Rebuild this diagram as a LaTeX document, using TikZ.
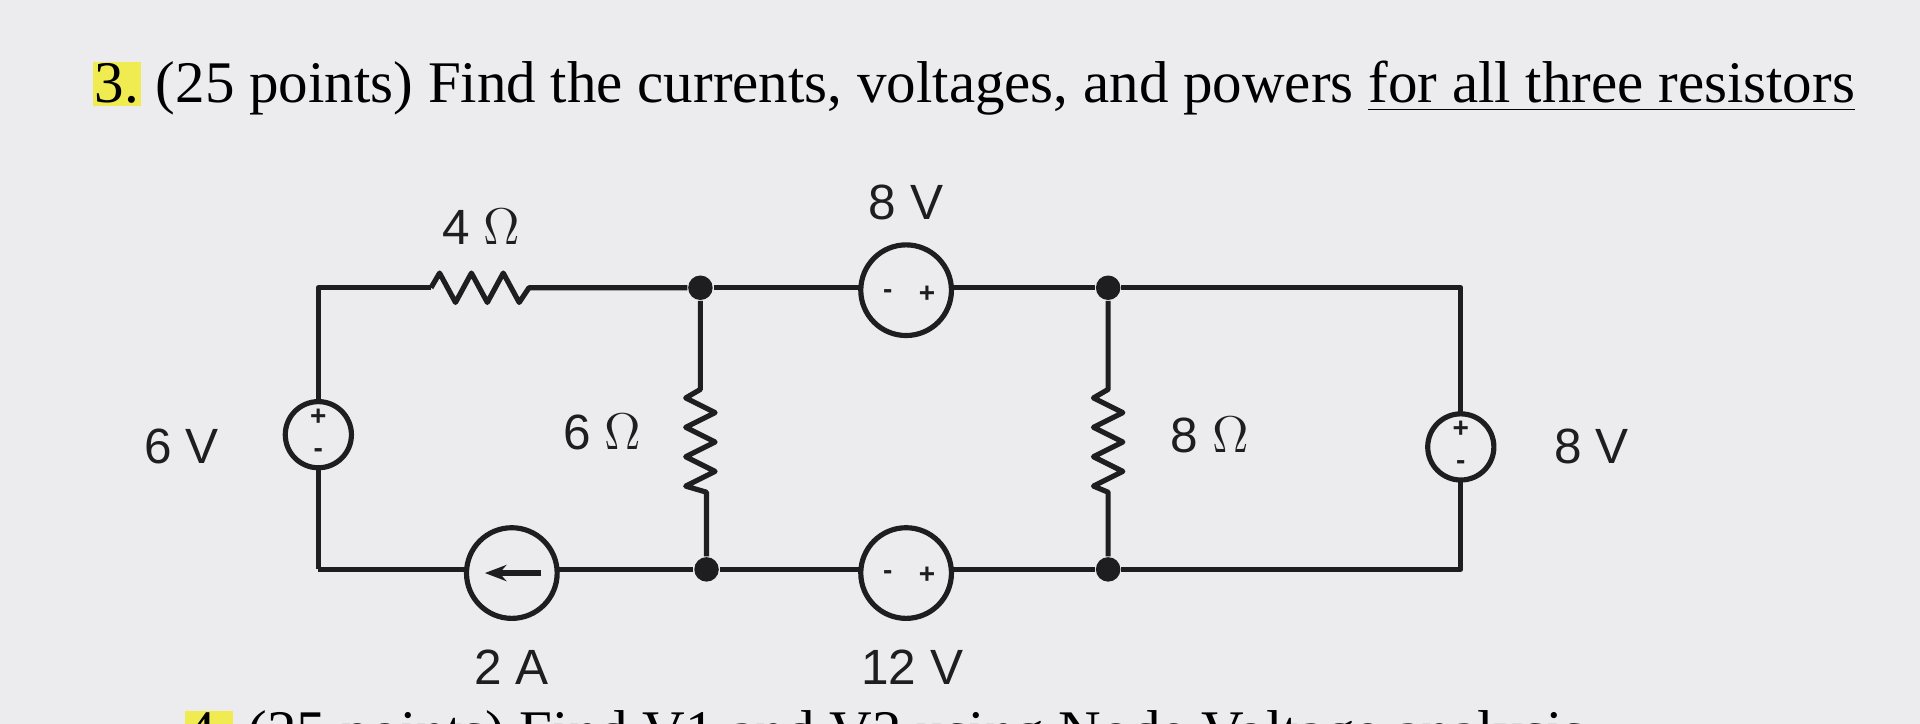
\documentclass[tikz,border=0pt]{standalone}
\usepackage{fontspec}
\setmainfont{Liberation Serif}
\newfontfamily\cfont{Liberation Sans}
\usetikzlibrary{arrows.meta}
\definecolor{bg}{RGB}{236,236,239}
\definecolor{ink}{RGB}{30,30,32}
\definecolor{hl}{RGB}{240,235,80}
\begin{document}
\begin{tikzpicture}[x=0.01cm,y=-0.01cm,
  wire/.style={ink,line width=1.2pt,line join=round},
  src/.style={circle,draw=ink,line width=1.2pt,fill=bg,minimum size=#1,inner sep=0pt},
  dot/.style={circle,fill=ink,minimum size=0.2cm,inner sep=0pt},
  lbl/.style={font=\cfont\fontsize{11.5}{12}\selectfont,text=ink},
  sgn/.style={font=\cfont\fontsize{6.5}{6}\selectfont\bfseries,text=ink,inner sep=0pt}]
\useasboundingbox (0,0) rectangle (1568,591);
\clip (0,0) rectangle (1568,591);
\fill[bg] (0,0) rectangle (1568,591);
% title
\node[anchor=base west,inner sep=0pt,font=\fontsize{13.7}{15}\selectfont] (title) at (75,84)
 {\setlength{\fboxsep}{0.5pt}\colorbox{hl}{3.} (25 points) Find the currents, voltages, and powers \underline{for all three resistors}};
\node[anchor=base west,inner sep=0pt,font=\fontsize{13.7}{15}\selectfont] (next) at (150,614)
 {\setlength{\fboxsep}{0.5pt}\colorbox{hl}{4.} (25 points) Find V1 and V2 using Node Voltage analysis};
% coordinates
\coordinate (tl) at (260,235); \coordinate (bl) at (260,465);
\node[dot] (na) at (572,235) {}; \node[dot] (nb) at (577,465) {};
\node[dot] (nc) at (905,235) {}; \node[dot] (nd) at (905,465) {};
\coordinate (tr) at (1193,235); \coordinate (br) at (1193,465);
\coordinate (r4a) at (352,235); \coordinate (r4b) at (432,235);
\coordinate (r6a) at (572,318); \coordinate (r6b) at (577,402);
\coordinate (r8a) at (905,318); \coordinate (r8b) at (905,402);
% wires
\draw[wire] (bl) -- (tl) -- (r4a);
\draw[wire] (r4a) -- ++(7,-12) -- ++(13,24) -- ++(13,-24) -- ++(13,24) -- ++(13,-24) -- ++(13,24) -- ++(8,-12) -- (na);
\draw[wire] (na) -- (nc) -- (tr) -- (br) -- (nd) -- (nb) -- (bl);
\draw[wire] (na) -- (r6a) -- ++(-12,7) -- ++(24,12) -- ++(-24,12) -- ++(24,12) -- ++(-24,12) -- ++(24,12) -- ++(-24,12) -- (r6b) -- (nb);
\draw[wire] (nc) -- (r8a) -- ++(-12,7) -- ++(24,12) -- ++(-24,12) -- ++(24,12) -- ++(-24,12) -- ++(24,12) -- ++(-24,12) -- (r8b) -- (nd);
% sources
\node[src=0.54cm] (v6) at (260,355) {};
\node[sgn] at (260,341) {+}; \node[sgn] at (260,370) {-};
\node[src=0.54cm] (v8r) at (1193,365) {};
\node[sgn] at (1193,351) {+}; \node[sgn] at (1193,380) {-};
\node[src=0.74cm] (v8t) at (740,237) {};
\node[sgn] at (725,240) {-}; \node[sgn] at (757,240) {+};
\node[src=0.74cm] (v12) at (740,468) {};
\node[sgn] at (725,470) {-}; \node[sgn] at (757,470) {+};
\node[src=0.74cm] (i2) at (418,468) {};
\draw[ink,line width=1.2pt,-{Stealth[length=5pt]}] (442,468) -- (396,468);
% labels
\node[lbl] (l6v) at (148,365) {6 V};
\node[lbl] (l4) at (393,185) {4 $\Omega$};
\node[lbl] (l8t) at (740,165) {8 V};
\node[lbl] (l6) at (492,353) {6 $\Omega$};
\node[lbl] (l8) at (988,355) {8 $\Omega$};
\node[lbl] (l8r) at (1300,365) {8 V};
\node[lbl] (l2a) at (418,545) {2 A};
\node[lbl] (l12) at (745,545) {12 V};
\end{tikzpicture}
\end{document}
